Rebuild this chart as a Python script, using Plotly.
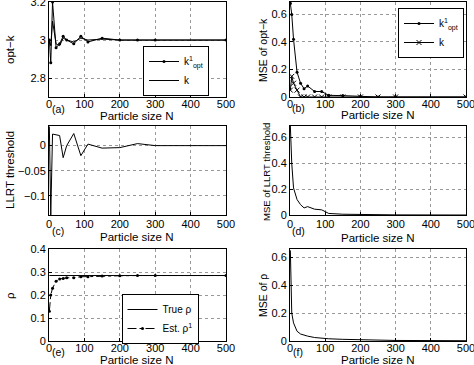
import plotly.graph_objects as go

N = [1, 5, 10, 20, 30, 40, 50, 70, 90, 110, 150, 200, 250, 300, 500]

# (a) opt-k
k_opt = [3.0, 2.88, 3.2, 2.96, 2.98, 3.02, 3.0, 2.98, 3.02, 2.99, 3.01, 3.0, 3.0, 3.0, 3.0]
k_est = [3.0, 2.97, 3.1, 2.98, 2.97, 3.01, 3.0, 2.99, 3.01, 3.0, 3.005, 3.0, 3.0, 3.0, 3.0]
# (b) MSE of opt-k
mse_kopt = [0.68, 0.6, 0.42, 0.18, 0.1, 0.06, 0.08, 0.04, 0.04, 0.012, 0.01, 0.003, 0.0, 0.0, 0.0]
mse_k = [0.05, 0.15, 0.1, 0.05, 0.0, 0.0, 0.0, 0.0, 0.0, 0.0, 0.0, 0.0, 0.0, 0.0, 0.0]
# (c) LLRT threshold
llrt = [0.038, -0.138, 0.023, 0.022, 0.02, -0.024, 0.0, 0.024, -0.02, 0.003, -0.005, -0.004, 0.004, 0.0, 0.0]
# (d) MSE of LLRT threshold
mse_llrt = [0.69, 0.4, 0.21, 0.12, 0.08, 0.055, 0.065, 0.045, 0.04, 0.012, 0.006, 0.003, 0.001, 0.001, 0.0]
# (e) rho
rho_true = [0.285] * len(N)
rho_est = [0.13, 0.2, 0.23, 0.26, 0.27, 0.272, 0.275, 0.275, 0.28, 0.28, 0.283, 0.284, 0.285, 0.285, 0.285]
# (f) MSE of rho
mse_rho = [0.65, 0.2, 0.13, 0.07, 0.05, 0.04, 0.035, 0.025, 0.02, 0.016, 0.012, 0.008, 0.005, 0.004, 0.002]

W, H = 474, 365
FONT = "Liberation Sans, Arial, sans-serif"

def px_x(a, b):
    return [a / W, b / W]

def px_y(top, bot):
    return [1 - bot / H, 1 - top / H]

colL = px_x(49, 226)
colR = px_x(290, 466)
row1 = px_y(2, 97)
row2 = px_y(126, 215)
row3 = px_y(249, 341)

fig = go.Figure()

def add(x, y, ax, name, legend, mode="lines", marker=None, dash="solid", show=True):
    fig.add_trace(go.Scatter(
        x=x, y=y, mode=mode, name=name, line=dict(color="black", width=1, dash=dash),
        marker=marker, xaxis="x" + ax, yaxis="y" + ax, legend=legend, showlegend=show))

dotm = dict(symbol="circle", size=3, color="black")
xm = dict(symbol="x-thin", size=5, color="black", line=dict(color="black", width=1))

add(N, k_opt, "", "k<sup>1</sup><sub>opt</sub>", "legend", "lines+markers", dotm)
add(N, k_est, "", "k", "legend")
add(N, mse_kopt, "2", "k<sup>1</sup><sub>opt</sub>", "legend2", "lines+markers", dotm)
add(N, mse_k, "2", "k", "legend2", "lines+markers", xm)
add(N, llrt, "3", "llrt", "legend", show=False)
add(N, mse_llrt, "4", "mse llrt", "legend", show=False)
add(N, rho_true, "5", "True ρ", "legend3")
add(N, rho_est, "5", "Est. ρ<sup>1</sup>", "legend3", "lines+markers", dotm, dash="dashdot")
add(N, mse_rho, "6", "mse rho", "legend", show=False)

def xaxis(dom, anchor, standoff):
    return dict(domain=dom, anchor=anchor, range=[0, 500], tickvals=[0, 100, 200, 300, 400, 500],
                showline=True, mirror=True, linecolor="black", linewidth=1,
                ticks="inside", ticklen=3, tickcolor="black", automargin=False,
                ticklabelstandoff=standoff, ticklabeloverflow="allow",
                showgrid=True, gridcolor="#999", griddash="dot", gridwidth=1,
                zeroline=False, tickfont=dict(size=11, color="black", family=FONT))

def yaxis(dom, anchor, rng, tv):
    return dict(domain=dom, anchor=anchor, range=rng, tickvals=tv,
                showline=True, mirror=True, linecolor="black", linewidth=1,
                ticks="inside", ticklen=3, tickcolor="black", automargin=False,
                ticklabeloverflow="allow",
                showgrid=True, gridcolor="#999", griddash="dot", gridwidth=1,
                zeroline=False, tickfont=dict(size=11, color="black", family=FONT))

leg = dict(bgcolor="white", bordercolor="black", borderwidth=1,
           font=dict(size=10, family=FONT, color="black"), itemwidth=30, tracegroupgap=0)

layout = dict(
    template="none",
    width=W, height=H, margin=dict(l=0, r=0, t=0, b=0, pad=0),
    paper_bgcolor="white", plot_bgcolor="white",
    font=dict(family=FONT, color="black", size=11),
    xaxis=xaxis(colL, "y", -3), yaxis=yaxis(row1, "x", [2.7, 3.2005], [2.8, 3, 3.2]),
    xaxis2=xaxis(colR, "y2", -3), yaxis2=yaxis(row1, "x2", [0, 0.69], [0, 0.2, 0.4, 0.6]),
    xaxis3=xaxis(colL, "y3", -1), yaxis3=yaxis(row2, "x3", [-0.138, 0.039], [-0.1, -0.05, 0]),
    xaxis4=xaxis(colR, "y4", -1), yaxis4=yaxis(row2, "x4", [0, 0.69], [0, 0.2, 0.4, 0.6]),
    xaxis5=xaxis(colL, "y5", -3), yaxis5=yaxis(row3, "x5", [0, 0.4005], [0, 0.1, 0.2, 0.3, 0.4]),
    xaxis6=xaxis(colR, "y6", -3), yaxis6=yaxis(row3, "x6", [0, 0.66], [0, 0.2, 0.4, 0.6]),
    legend=dict(x=176 / W, y=1 - 46 / H, xanchor="center", yanchor="top", **leg),
    legend2=dict(x=464 / W, y=1 - 8 / H, xanchor="right", yanchor="top", **leg),
    legend3=dict(x=160 / W, y=1 - 294 / H, xanchor="center", yanchor="top", **leg),
)
fig.update_layout(**layout)

ann = []
def text(x, y, s, angle=0, size=11.5):
    ann.append(dict(x=x / W, y=1 - y / H, xref="paper", yref="paper", text=s, showarrow=False,
                    textangle=angle, font=dict(size=size, family=FONT, color="black"),
                    xanchor="center", yanchor="middle"))

for cx, y in [(137, 116), (378, 115), (137, 237), (378, 238), (137, 360), (378, 360)]:
    text(cx, y, "Particle size N")
for (x, y), lab in zip([(58, 109), (298, 108), (58, 231), (298, 231), (58, 352), (298, 352)],
                       ["(a)", "(b)", "(c)", "(d)", "(e)", "(f)"]):
    text(x, y, lab, size=10.5)

text(10, 50, "opt−k", -90)
text(10, 170, "LLRT threshold", -90)
text(10, 296, "ρ", -90)
text(263, 50, "MSE of opt−k", -90, 10.5)
text(266, 172, "MSE of LLRT threshold", -90, 9.5)
text(263, 296, "MSE of ρ", -90, 10.5)
fig.update_layout(annotations=ann)

fig.write_html("out.html", config={"displayModeBar": False},
               post_script="document.body.style.margin='0px';")
